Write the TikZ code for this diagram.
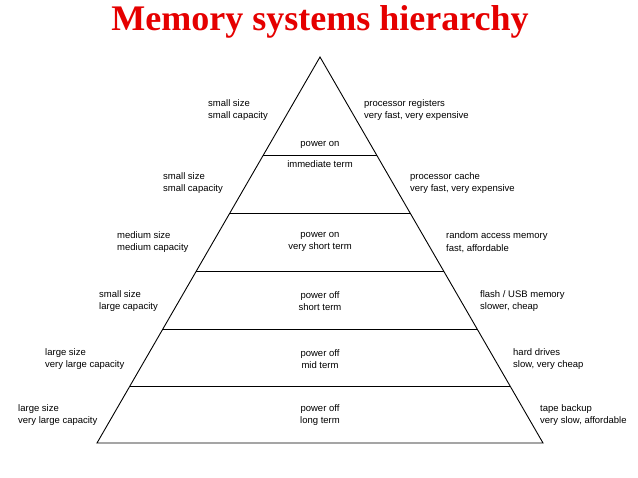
\documentclass[tikz,border=0pt]{standalone}
\usepackage{fontspec}
\setmainfont{Liberation Sans}
\newfontfamily\titlefont{Liberation Serif}
\begin{document}
\begin{tikzpicture}[x=1pt,y=-1pt,
  lbl/.style={font=\fontsize{9.5}{12.5}\selectfont,align=left,anchor=west,inner sep=0pt},
  ctr/.style={font=\fontsize{9.5}{12.5}\selectfont,align=center,inner sep=0pt},
  ln/.style={line width=0.9pt}]
\useasboundingbox (0,0) rectangle (638,478);
\node[font=\titlefont\fontsize{36}{40}\selectfont\bfseries,text=red!90!black] (title) at (320,22) {Memory systems hierarchy};
\coordinate (apex) at (320,57);
\coordinate (bl) at (97,443);
\coordinate (br) at (543,443);
\draw[ln] (bl) -- (apex) -- (br) -- cycle;
\foreach \y in {155,213,271,329,386}{
  \pgfmathsetmacro\dx{0.5777*(\y-57)}
  \draw[ln] (320-\dx,\y) -- (320+\dx,\y);
}
\node[ctr] (c1a) at (320,145) {power on};
\node[ctr] (c1b) at (320,164) {immediate term};
\node[ctr] (c2) at (320,242) {power on\\very short term};
\node[ctr] (c3) at (320,301) {power off\\short term};
\node[ctr] (c4) at (320,359) {power off\\mid term};
\node[ctr] (c5) at (320,415) {power off\\long term};
\node[lbl] (l1) at (208,110) {small size\\small capacity};
\node[lbl] (l2) at (163,183) {small size\\small capacity};
\node[lbl] (l3) at (117,242) {medium size\\medium capacity};
\node[lbl] (l4) at (99,301) {small size\\large capacity};
\node[lbl] (l5) at (45,359) {large size\\very large capacity};
\node[lbl] (l6) at (18,415) {large size\\very large capacity};
\node[lbl] (r1) at (364,110) {processor registers\\very fast, very expensive};
\node[lbl] (r2) at (410,183) {processor cache\\very fast, very expensive};
\node[lbl] (r3) at (446,242) {random access memory\\fast, affordable};
\node[lbl] (r4) at (480,301) {flash / USB memory\\slower, cheap};
\node[lbl] (r5) at (513,359) {hard drives\\slow, very cheap};
\node[lbl] (r6) at (540,415) {tape backup\\very slow, affordable};
\end{tikzpicture}
\end{document}
